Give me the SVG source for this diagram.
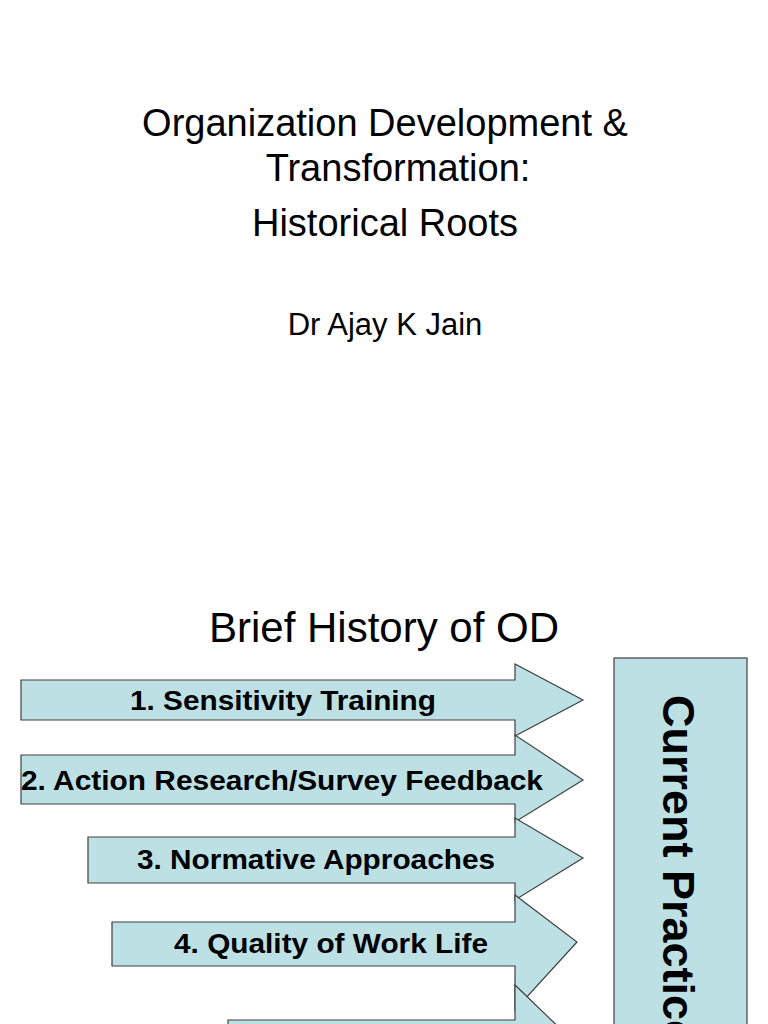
<svg xmlns="http://www.w3.org/2000/svg" width="768" height="1024" viewBox="0 0 768 1024">
<style>
.t{font-family:"Liberation Sans",Arial,sans-serif;fill:#000}
.a{fill:#bde0e4;stroke:#404040;stroke-width:1.2}
.l{font-family:"Liberation Sans",Arial,sans-serif;font-weight:bold;font-size:27px;fill:#000}
</style>
<rect width="768" height="1024" fill="#fff"/>
<text class="t" x="385" y="136" font-size="38" text-anchor="middle">Organization Development &amp;</text>
<text class="t" x="398" y="181" font-size="38" text-anchor="middle">Transformation:</text>
<text class="t" x="385" y="236" font-size="38" text-anchor="middle">Historical Roots</text>
<text class="t" x="385" y="335" font-size="31" text-anchor="middle">Dr Ajay K Jain</text>
<text class="t" x="384" y="642" font-size="42" text-anchor="middle">Brief History of OD</text>
<g id="current">
<rect x="614" y="658" width="133" height="380" class="a"/>
<text class="l" transform="translate(663,695) rotate(90)" style="font-size:45px">Current Practice</text>
</g>
<g id="connectors">
<g id="arrow1"><path class="a" d="M21,680 H515 V664 L583,700 L515,736 V720 H21 Z"/>
<text class="l" x="283" y="710" text-anchor="middle" textLength="306" lengthAdjust="spacingAndGlyphs">1. Sensitivity Training</text></g>
<g id="arrow2"><path class="a" d="M21,755 H515 V735 L583,780 L515,822 V804 H21 Z"/>
<text class="l" x="282" y="790" text-anchor="middle" textLength="522" lengthAdjust="spacingAndGlyphs">2. Action Research/Survey Feedback</text></g>
<g id="arrow3"><path class="a" d="M88,837 H515 V818 L583,858 L515,900 V883 H88 Z"/>
<text class="l" x="316" y="869" text-anchor="middle" textLength="358" lengthAdjust="spacingAndGlyphs">3. Normative Approaches</text></g>
<g id="arrow4"><path class="a" d="M112,922 H515 V895 L577,942 L515,1010 V966 H112 Z"/>
<text class="l" x="331" y="953" text-anchor="middle" textLength="314" lengthAdjust="spacingAndGlyphs">4. Quality of Work Life</text></g>
<g id="arrow5"><path class="a" d="M228,1020 H515 V985 L572,1040 L515,1080 V1060 H228 Z"/></g>
</g>
</svg>
